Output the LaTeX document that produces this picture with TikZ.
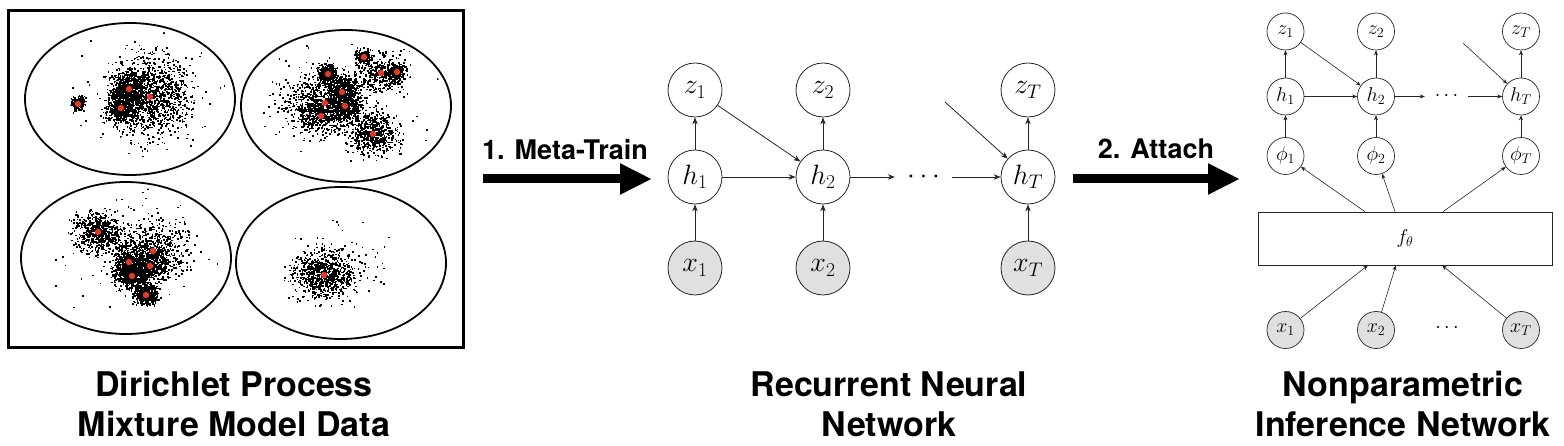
\RequirePackage{fix-cm}
\documentclass[tikz,border=0pt]{standalone}
\usepackage{fontspec}
\newfontfamily\hv{TeX Gyre Heros}
\usetikzlibrary{arrows.meta,calc}
\definecolor{dotred}{RGB}{228,58,38}
\definecolor{obsgray}{RGB}{224,224,224}
\newcommand\mycluster[5]{%
  \foreach \i in {1,...,#5}{%
    \fill (#1-0.8+#3*rand+#3*rand+#3*rand, #2-0.8+#4*rand+#4*rand+#4*rand) rectangle ++(1.6,1.6);}}
\newcommand\myred[2]{\fill[dotred] (#1,#2) circle (3.2pt);}
\begin{document}
\begin{tikzpicture}[x=1pt,y=-1pt,
  mnode/.style={circle, draw=black!85, line width=0.8pt, minimum size=54pt, inner sep=0pt, font=\fontsize{28}{32}\selectfont},
  mobs/.style={mnode, fill=obsgray},
  rnode/.style={circle, draw=black!85, line width=0.7pt, minimum size=37pt, inner sep=0pt, font=\fontsize{20}{24}\selectfont},
  robs/.style={rnode, fill=obsgray},
  marr/.style={-{Stealth[length=7pt,width=5.5pt]}, line width=0.8pt, draw=black!85},
  rarr/.style={-{Stealth[length=5pt,width=4pt]}, line width=0.6pt, draw=black!85},
  bigarr/.style={line width=9pt, -{Triangle[length=32pt,width=29pt]}},
  lbl/.style={font=\hv\bfseries\fontsize{34}{40}\selectfont, align=center},
  albl/.style={font=\hv\bfseries\fontsize{27}{32}\selectfont},
  ell/.style={line width=1.8pt}
]
\useasboundingbox (0,0) rectangle (1564,446);
\pgfmathsetseed{12}

% ---------- left panel: DPMM data ----------
\draw[line width=3pt] (8,11) rectangle (463,348);
\draw[ell] (130,99) ellipse [x radius=105pt, y radius=76pt];
\draw[ell] (346,106) ellipse [x radius=105pt, y radius=76pt];
\draw[ell] (126,258) ellipse [x radius=105pt, y radius=76pt];
\draw[ell] (341,263) ellipse [x radius=105pt, y radius=76pt];

\begin{scope}
\clip (130,99) ellipse [x radius=100pt, y radius=71pt];
\mycluster{78}{104}{3.5}{3.5}{200}
\mycluster{129}{89}{8}{9}{600}
\mycluster{121}{108}{7}{7}{450}
\mycluster{152}{97}{19}{20}{1100}
\mycluster{145}{95}{35}{28}{90}
\myred{78}{104}\myred{129}{89}\myred{121}{108}\myred{150}{97}
\end{scope}

\begin{scope}
\clip (346,106) ellipse [x radius=100pt, y radius=71pt];
\mycluster{328}{74}{4.5}{4}{350}
\mycluster{364}{57}{4}{3.5}{180}
\mycluster{381}{73}{12}{9}{350}
\mycluster{397}{72}{4}{4}{220}
\mycluster{342}{92}{8}{8}{420}
\mycluster{325}{103}{20}{15}{900}
\mycluster{345}{106}{8}{8}{350}
\mycluster{321}{116}{8}{7}{200}
\mycluster{373}{134}{12}{10}{600}
\mycluster{345}{100}{38}{28}{90}
\myred{328}{74}\myred{364}{57}\myred{381}{73}\myred{397}{72}\myred{342}{92}
\myred{325}{103}\myred{345}{106}\myred{321}{116}\myred{373}{134}
\end{scope}

\begin{scope}
\clip (126,258) ellipse [x radius=100pt, y radius=71pt];
\mycluster{98}{232}{12}{10}{600}
\mycluster{129}{262}{9}{9}{450}
\mycluster{153}{251}{17}{14}{600}
\mycluster{150}{266}{9}{8}{350}
\mycluster{132}{276}{8}{7}{400}
\mycluster{146}{295}{5.5}{5}{420}
\mycluster{140}{245}{38}{26}{100}
\myred{98}{232}\myred{129}{262}\myred{153}{251}\myred{150}{266}\myred{132}{276}\myred{146}{295}
\end{scope}

\begin{scope}
\clip (341,263) ellipse [x radius=100pt, y radius=71pt];
\mycluster{324}{275}{15}{12}{800}
\mycluster{355}{255}{30}{20}{50}
\myred{324}{275}
\end{scope}

\node[lbl] (lab1) at (234,404) {Dirichlet Process\\Mixture Model Data};

% ---------- big arrows ----------
\coordinate (a1s) at (483,179);
\coordinate (a1e) at (652,179);
\draw[bigarr] (a1s) -- (a1e);
\node[albl] (t1) at (565,150) {1. Meta-Train};
\coordinate (a2s) at (1073,179);
\coordinate (a2e) at (1240,179);
\draw[bigarr] (a2s) -- (a2e);
\node[albl] (t2) at (1156,149) {2. Attach};

% ---------- middle panel: RNN ----------
\node[mnode] (z1) at (695,90) {$z_1$};
\node[mnode] (z2) at (823,90) {$z_2$};
\node[mnode] (zT) at (1028,90) {$z_T$};
\node[mnode] (h1) at (695,177) {$h_1$};
\node[mnode] (h2) at (823,177) {$h_2$};
\node[mnode] (hT) at (1028,177) {$h_T$};
\node[mobs] (x1) at (695,268) {$x_1$};
\node[mobs] (x2) at (823,268) {$x_2$};
\node[mobs] (xT) at (1028,268) {$x_T$};
\node[inner sep=0pt, minimum width=57pt, minimum height=10pt, font=\fontsize{28}{32}\selectfont] (md) at (923.5,177) {$\cdots$};
\coordinate (min) at (945,102);
\foreach \k in {1,2,T}{
  \draw[marr] (x\k) -- (h\k);
  \draw[marr] (h\k) -- (z\k);
}
\draw[marr] (h1) -- (h2);
\draw[marr] (z1) -- (h2);
\draw[marr] (h2) -- (md);
\draw[marr] (md) -- (hT);
\draw[marr] (min) -- (hT);
\node[lbl] (lab2) at (889,404) {Recurrent Neural\\Network};

% ---------- right panel: NPIN ----------
\node[rnode] (rz1) at (1285.5,31.5) {$z_1$};
\node[rnode] (rz2) at (1376,31.5) {$z_2$};
\node[rnode] (rzT) at (1521,31.5) {$z_T$};
\node[rnode] (rh1) at (1285.5,96.5) {$h_1$};
\node[rnode] (rh2) at (1376,96.5) {$h_2$};
\node[rnode] (rhT) at (1521,96.5) {$h_T$};
\node[rnode] (rp1) at (1285.5,156) {$\phi_1$};
\node[rnode] (rp2) at (1376,156) {$\phi_2$};
\node[rnode] (rpT) at (1521,156) {$\phi_T$};
\node[robs] (rx1) at (1285.5,330) {$x_1$};
\node[robs] (rx2) at (1376,330) {$x_2$};
\node[robs] (rxT) at (1521,330) {$x_T$};
\node[inner sep=0pt, minimum width=43pt, minimum height=8pt, font=\fontsize{20}{24}\selectfont] (rd) at (1446.5,96.5) {$\cdots$};
\node[inner sep=0pt, font=\fontsize{20}{24}\selectfont] (rd2) at (1447,328) {$\cdots$};
\node[draw=black!85, line width=0.7pt, minimum width=294pt, minimum height=53pt, inner sep=0pt, font=\fontsize{20}{24}\selectfont] (f) at (1405,238.5) {$f_\theta$};
\coordinate (rin) at (1463,43);
\coordinate (ft1) at ($(f.north west)!0.364!(f.north east)$);
\coordinate (ft2) at ($(f.north west)!0.466!(f.north east)$);
\coordinate (ftT) at ($(f.north west)!0.629!(f.north east)$);
\coordinate (fb1) at ($(f.south west)!0.374!(f.south east)$);
\coordinate (fb2) at ($(f.south west)!0.469!(f.south east)$);
\coordinate (fbT) at ($(f.south west)!0.626!(f.south east)$);
\foreach \k in {1,2,T}{
  \draw[rarr] (rp\k) -- (rh\k);
  \draw[rarr] (rh\k) -- (rz\k);
  \draw[rarr] (ft\k) -- (rp\k);
  \draw[rarr] (rx\k) -- (fb\k);
}
\draw[rarr] (rh1) -- (rh2);
\draw[rarr] (rz1) -- (rh2);
\draw[rarr] (rh2) -- (rd);
\draw[rarr] (rd) -- (rhT);
\draw[rarr] (rin) -- (rhT);
\node[lbl] (lab3) at (1403,404) {Nonparametric\\Inference Network};
\end{tikzpicture}
\end{document}
